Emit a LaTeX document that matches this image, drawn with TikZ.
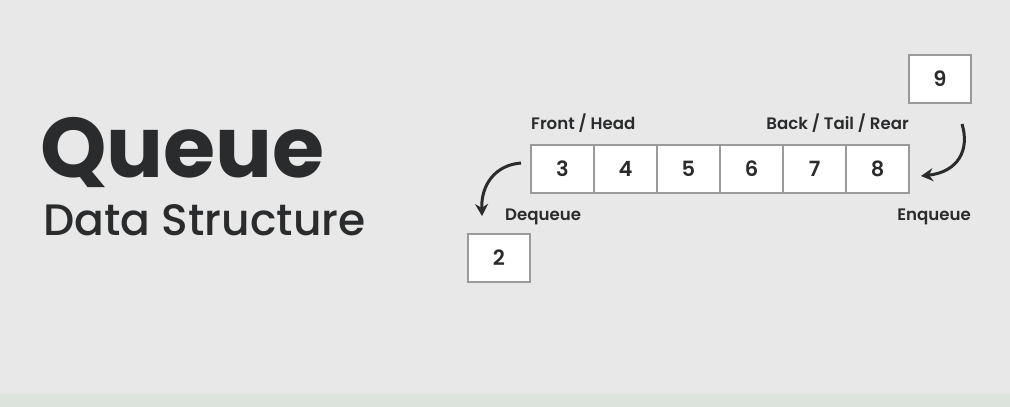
\documentclass[tikz,border=0pt]{standalone}
\usepackage{fontspec}
\setmainfont{Poppins}
\newfontfamily\pmed{Poppins}[UprightFont=*-Medium,BoldFont=*-Bold]
\newfontfamily\psemi{Poppins}[UprightFont=*-SemiBold,BoldFont=*-Bold]
\usetikzlibrary{arrows.meta}
\definecolor{bg}{HTML}{E8E8E8}
\definecolor{strip}{HTML}{DCE3DC}
\definecolor{ink}{HTML}{2A2B2C}
\definecolor{edge}{HTML}{9A9A9A}
\tikzset{
  cell/.style={draw=edge, line width=1.2pt, fill=white, minimum width=63pt, minimum height=48pt, inner sep=0pt, font=\psemi\fontsize{21}{21}\selectfont, text=ink},
  lbl/.style={font=\psemi\fontsize{16.6}{17}\selectfont, text=ink, inner sep=0pt},
  flow/.style={draw=ink, line width=3pt, -{Stealth[length=12pt,width=13pt]}}
}
\begin{document}
\begin{tikzpicture}[x=1pt,y=-1pt]
\fill[bg] (0,0) rectangle (1010,407);
\fill[strip] (0,394) rectangle (1010,407);
\useasboundingbox (0,0) rectangle (1010,407);
\node[anchor=base west, inner sep=0pt, text=ink, font=\fontsize{84.5}{85}\selectfont\bfseries] (title) at (40,177) {Queue};
\node[anchor=base west, inner sep=0pt, text=ink, font=\pmed\fontsize{44}{44}\selectfont] (sub) at (43,235) {Data Structure};
\node[cell] (c3) at (562.5,169) {3};
\node[cell] (c4) at (625.5,169) {4};
\node[cell] (c5) at (688.5,169) {5};
\node[cell] (c6) at (751.5,169) {6};
\node[cell] (c7) at (814.5,169) {7};
\node[cell] (c8) at (877.5,169) {8};
\node[cell, minimum width=62pt] (n9) at (940,79) {9};
\node[cell, minimum width=62pt] (n2) at (499,258) {2};
\node[lbl, anchor=base west] (front) at (531,129) {Front / Head};
\node[lbl, anchor=base east] (back) at (909,129) {Back / Tail / Rear};
\node[lbl, anchor=base west] (deq) at (505,220) {Dequeue};
\node[lbl, anchor=base east] (enq) at (971,220) {Enqueue};
\coordinate (dqs) at (521,163);
\coordinate (dqe) at (482,216);
\coordinate (eqs) at (962,124);
\coordinate (eqe) at (921,176);
\draw[flow] (dqs) .. controls (495,165) and (481,185) .. (dqe);
\draw[flow] (eqs) .. controls (970,150) and (958,172) .. (eqe);
\end{tikzpicture}
\end{document}
